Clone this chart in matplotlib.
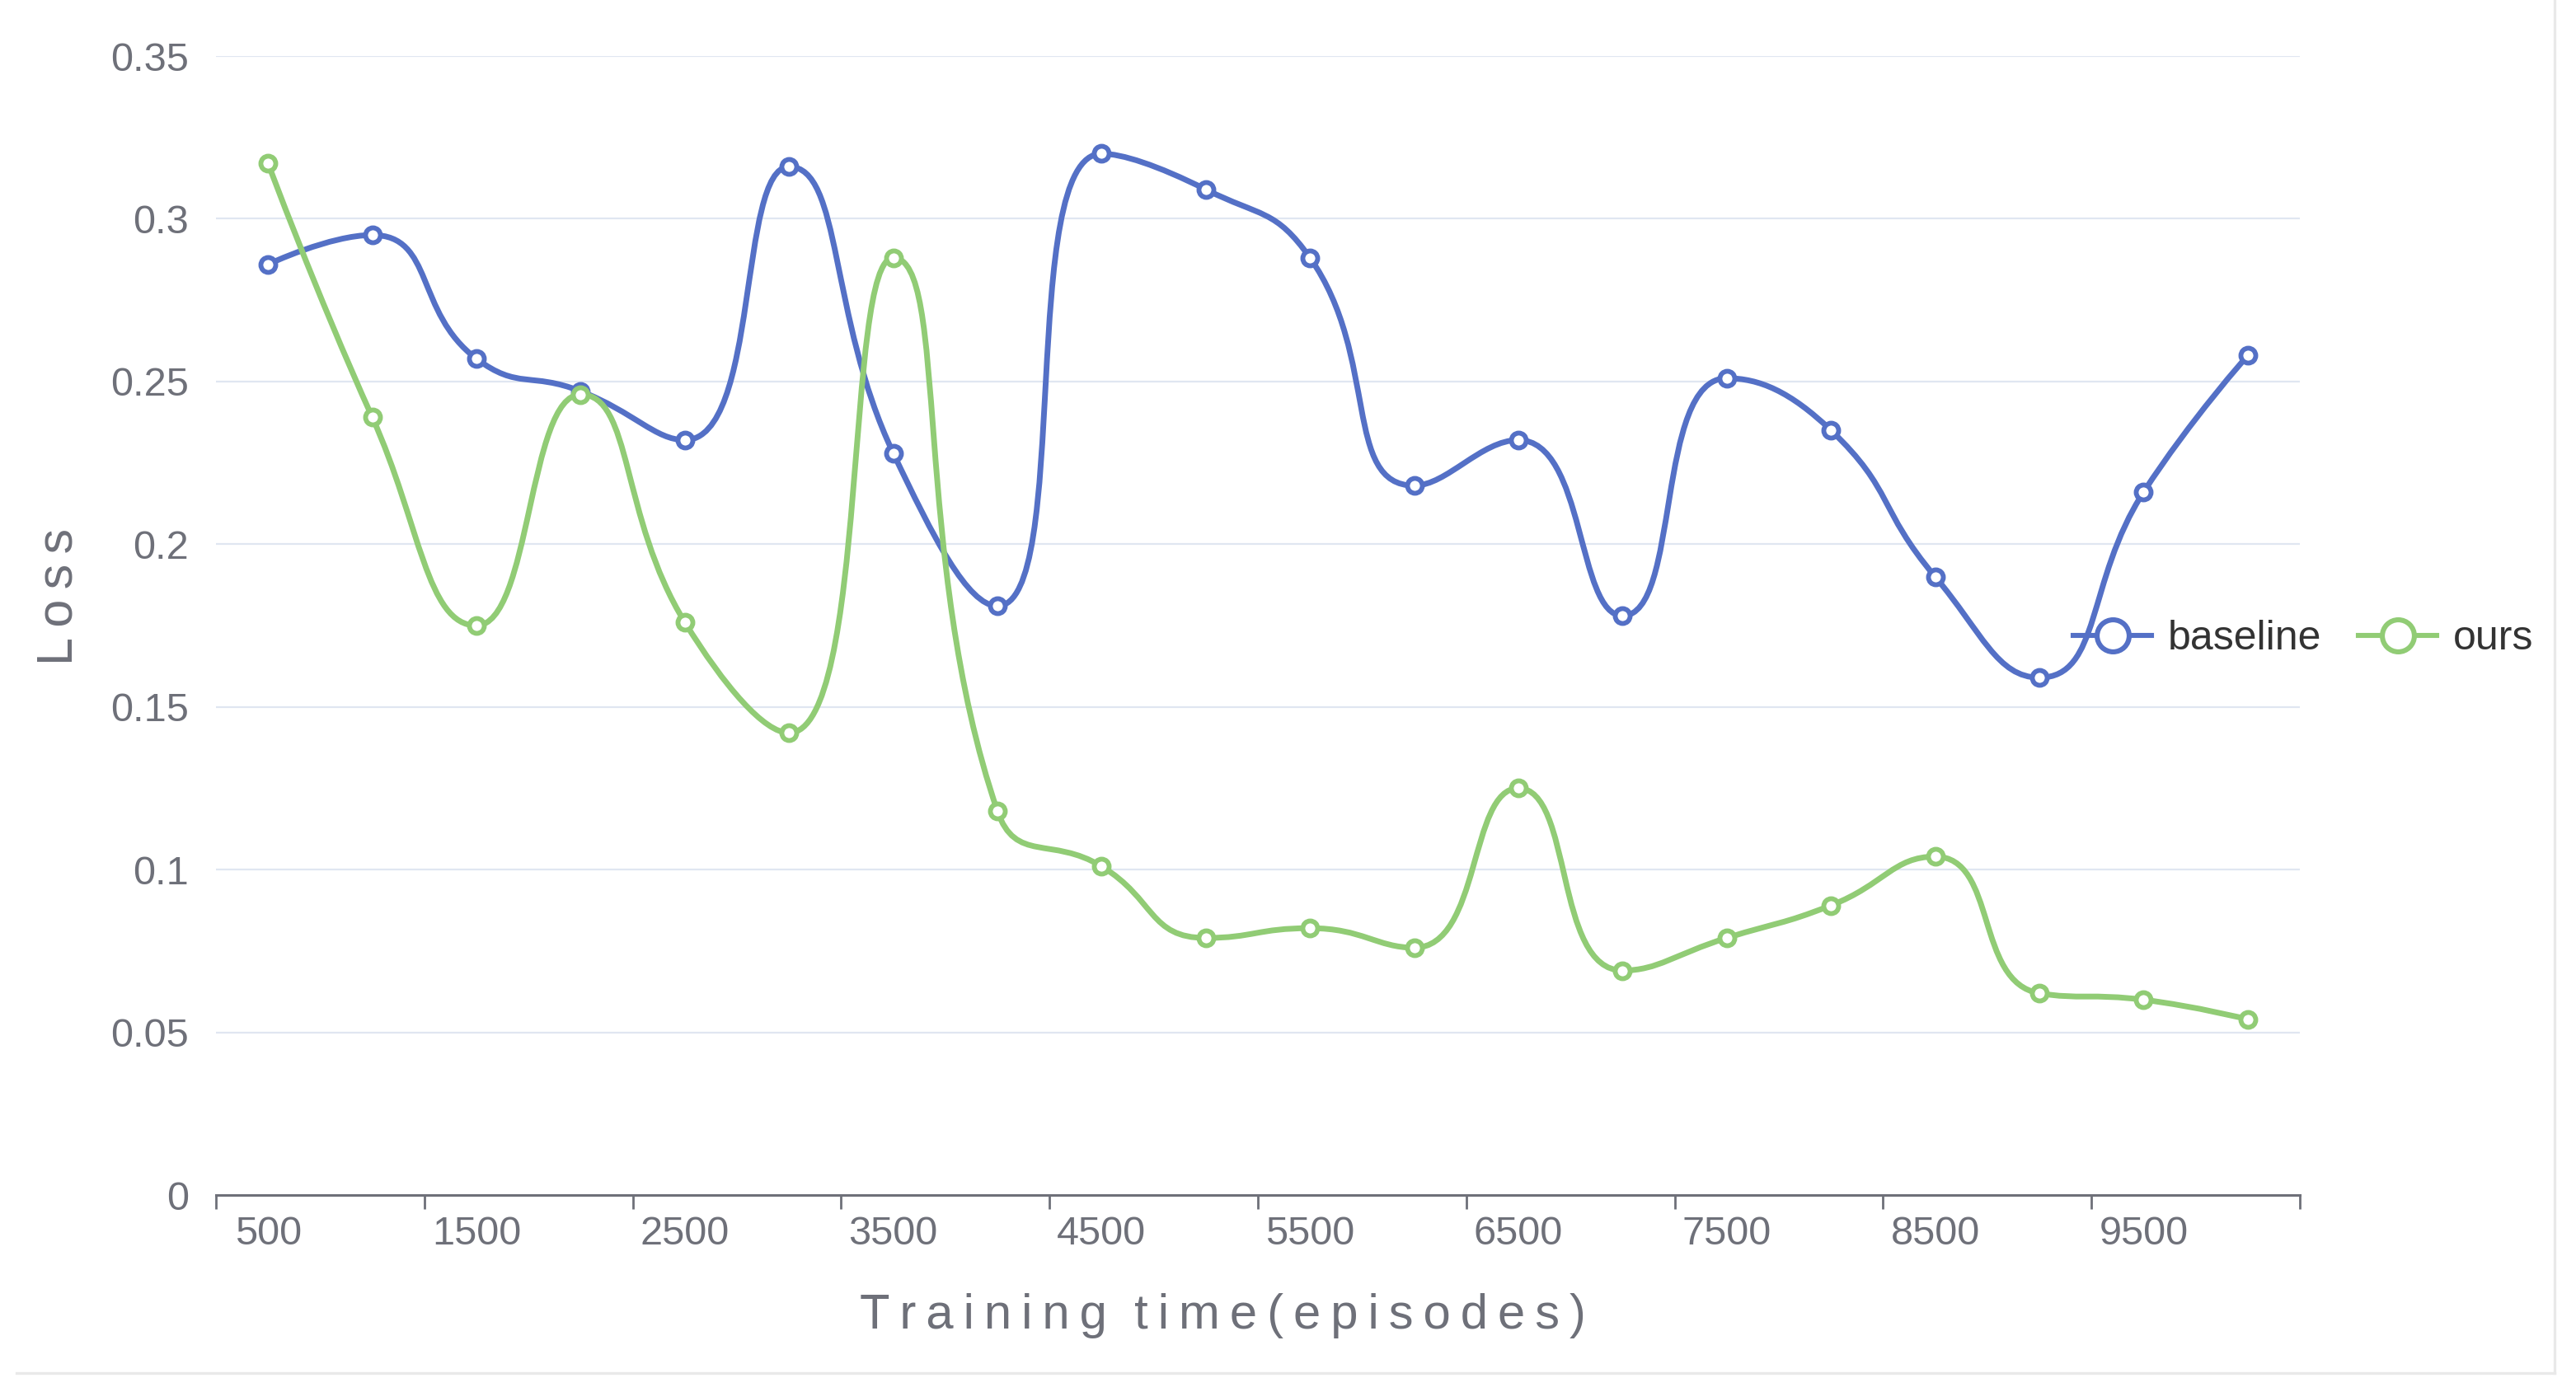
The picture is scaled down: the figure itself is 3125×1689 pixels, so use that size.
import numpy as np
import matplotlib
matplotlib.use("Agg")
import matplotlib.pyplot as plt
from matplotlib.path import Path
from matplotlib.patches import PathPatch
from matplotlib.lines import Line2D
from matplotlib.ticker import FixedLocator, FuncFormatter

# Datos
episodes = [500, 1000, 1500, 2000, 2500, 3000, 3500, 4000, 4500, 5000,
            5500, 6000, 6500, 7000, 7500, 8000, 8500, 9000, 9500, 10000]
baseline = [0.286, 0.295, 0.257, 0.247, 0.232, 0.316, 0.228, 0.181, 0.320, 0.309,
            0.288, 0.218, 0.232, 0.178, 0.251, 0.235, 0.190, 0.159, 0.216, 0.258]
ours = [0.317, 0.239, 0.175, 0.246, 0.176, 0.142, 0.288, 0.118, 0.101, 0.079,
        0.082, 0.076, 0.125, 0.069, 0.079, 0.089, 0.104, 0.062, 0.060, 0.054]
y_ticks = [0, 0.05, 0.1, 0.15, 0.2, 0.25, 0.3, 0.35]

BLUE = "#5470c6"
GREEN = "#91cc75"
GRAY = "#6E7079"
FONT = ["Liberation Sans", "DejaVu Sans"]
plt.rcParams["font.family"] = FONT


def clamp(v, a, b):
    return max(min(v, max(a, b)), min(a, b))


def smooth_path(xs, ys, sx, sy, s=0.5):
    """Curva suave tipo echarts (bezier con control acotado)."""
    pts = [(x * sx, y * sy) for x, y in zip(xs, ys)]
    n = len(pts)
    verts = [pts[0]]
    codes = [Path.MOVETO]
    cp0 = pts[0]
    for i in range(1, n):
        x, y = pts[i]
        px, py = pts[i - 1]
        if i == n - 1:
            cp1 = (x, y)
            ncp = None
        else:
            nx, ny = pts[i + 1]
            vx, vy = nx - px, ny - py
            d0 = np.hypot(x - px, y - py)
            d1 = np.hypot(nx - x, ny - y)
            r = d1 / (d0 + d1)
            ncx = clamp(x + vx * s * r, nx, x)
            ncy = clamp(y + vy * s * r, ny, y)
            vx, vy = ncx - x, ncy - y
            c1x = clamp(x - vx * d0 / d1, px, x)
            c1y = clamp(y - vy * d0 / d1, py, y)
            cp1 = (c1x, c1y)
            vx, vy = x - c1x, y - c1y
            ncp = (x + vx * d1 / d0, y + vy * d1 / d0)
        verts += [cp0, cp1, (x, y)]
        codes += [Path.CURVE4] * 3
        cp0 = ncp
    verts = [(vx / sx, vy / sy) for vx, vy in verts]
    return Path(verts, codes)


fig = plt.figure(figsize=(15.625, 8.445), dpi=200)
ax = fig.add_axes([262 / 3125, 1 - 1450 / 1689, (2790 - 262) / 3125, (1450 - 68) / 1689])

idx = np.arange(len(episodes))
sx, sy = 126.4, 3949.0

for values, color, z in [(baseline, BLUE, 3), (ours, GREEN, 5)]:
    path = smooth_path(idx, values, sx, sy)
    ax.add_patch(PathPatch(path, fill=False, edgecolor=color, lw=2.5,
                           capstyle="round", joinstyle="round", zorder=z))
    ax.plot(idx, values, linestyle="none", marker="o", markersize=6.5,
            markerfacecolor="white", markeredgecolor=color, markeredgewidth=2.1,
            zorder=z + 1)

ax.set_xlim(-0.5, len(episodes) - 0.5)
ax.set_ylim(0, 0.35)

# eje x tipo categoria
ax.xaxis.set_major_locator(FixedLocator(np.arange(-0.5, len(episodes), 2)))
ax.xaxis.set_major_formatter(FuncFormatter(lambda v, p: ""))
ax.xaxis.set_minor_locator(FixedLocator(idx[::2]))
ax.set_xticklabels([str(e) for e in episodes[::2]], minor=True)
ax.tick_params(axis="x", which="major", length=6, width=1, color=GRAY, direction="out")
ax.tick_params(axis="x", which="minor", length=0, pad=9, labelsize=17.5, labelcolor=GRAY)

ax.set_yticks(y_ticks)
ax.yaxis.set_major_formatter(FuncFormatter(lambda v, p: "{:g}".format(round(v, 2))))
ax.tick_params(axis="y", length=0, pad=12, labelsize=17.5, labelcolor=GRAY)

ax.grid(axis="y", color="#E0E6F1", lw=0.8)
ax.set_axisbelow(True)
for side in ["top", "right", "left"]:
    ax.spines[side].set_visible(False)
ax.spines["bottom"].set_color(GRAY)
ax.spines["bottom"].set_linewidth(1.1)
ax.spines["bottom"].set_zorder(6)

thin = "\u2009"
xname = thin.join("Training") + "  " + thin.join("time(episodes)")
fig.text(1483 / 3125, 1 - 1612 / 1689, xname, ha="center", va="baseline",
         fontsize=21.5, color=GRAY)
fig.text(88 / 3125, 1 - 724 / 1689, thin.join("Loss"), ha="center", va="baseline",
         rotation=90, rotation_mode="anchor", fontsize=22, color=GRAY)

handles = [
    Line2D([], [], color=BLUE, lw=2.2, marker="o", markersize=14,
           markerfacecolor="white", markeredgewidth=2.2),
    Line2D([], [], color=GREEN, lw=2.2, marker="o", markersize=14,
           markerfacecolor="white", markeredgewidth=2.2),
]
fig.legend(handles, ["baseline", "ours"], loc="center left",
           bbox_to_anchor=(2515 / 3125, 1 - 775 / 1689), ncol=2, frameon=False,
           fontsize=18, handlelength=1.9, handletextpad=0.4, columnspacing=0.9,
           borderpad=0, borderaxespad=0, labelcolor="#333333")

# marco claro de la captura
fig.add_artist(Line2D([20 / 3125, 3099 / 3125], [1 - 1666 / 1689] * 2,
                      transform=fig.transFigure, color="#e9e9e9", lw=1.2))
fig.add_artist(Line2D([3099 / 3125] * 2, [1 - 1666 / 1689, 1.0],
                      transform=fig.transFigure, color="#e9e9e9", lw=1.2))

fig.savefig("out.png", dpi=200)
plt.close(fig)
